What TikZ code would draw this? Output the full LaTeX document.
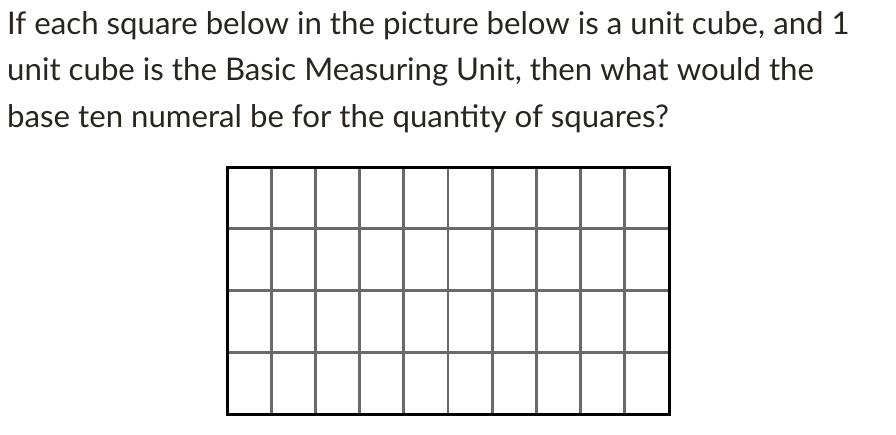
\documentclass[tikz,border=0pt]{standalone}
\usepackage{fontspec}
\setmainfont{Lato}
\definecolor{txt}{HTML}{2A2520}
\definecolor{gridgray}{HTML}{6A6A6A}
\begin{document}
\begin{tikzpicture}[x=1pt,y=-1pt,
  qline/.style={anchor=base west,inner sep=0pt,font=\fontsize{31.2}{37}\selectfont,text=txt}]
\useasboundingbox[fill=white] (0,0) rectangle (896,434);
\node[qline] (l1) at (7,34) {If each square below in the picture below is a unit cube, and 1};
\node[qline] (l2) at (7,80.5) {unit cube is the Basic Measuring Unit, then what would the};
\node[qline] (l3) at (7,127) {base ten numeral be for the quantity of squares?};
\foreach \i in {1,...,9}{
  \draw[gridgray,line width=2.8pt] ({227+44.2*\i},167) -- ({227+44.2*\i},414.5);
}
\foreach \j in {1,2,3}{
  \draw[gridgray,line width=2.8pt] (227,{167+61.85*\j}) -- (669,{167+61.85*\j});
}
\draw[black,line width=3pt] (227,167) rectangle (669,414.5) coordinate (br);
\end{tikzpicture}
\end{document}
